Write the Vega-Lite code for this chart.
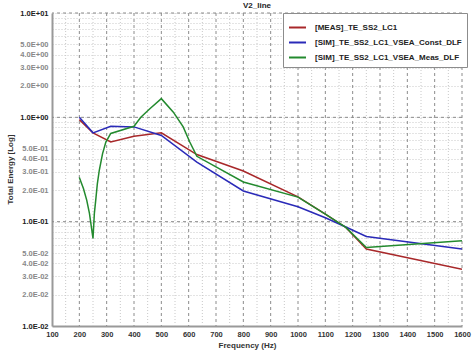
{
  "$schema": "https://vega.github.io/schema/vega-lite/v6.json",
  "autosize": "none",
  "width": 410,
  "height": 313,
  "padding": {"left": 52, "top": 13, "right": 12, "bottom": 25},
  "background": "white",
  "config": {
    "view": {"stroke": null},
    "font": "Liberation Sans",
    "axis": {"labelOverlap": false, "labelSeparation": 0}
  },
  "title": {"text": "V2_line", "fontSize": 8, "fontWeight": "bold", "color": "#222", "anchor": "middle", "offset": -1},
  "datasets": {
    "xminor": [{"f": 150}, {"f": 250}, {"f": 350}, {"f": 450}, {"f": 550}, {"f": 650}, {"f": 750}, {"f": 850}, {"f": 950}, {"f": 1050}, {"f": 1150}, {"f": 1250}, {"f": 1350}, {"f": 1450}, {"f": 1550}],
    "xmajor": [{"f": 200}, {"f": 300}, {"f": 400}, {"f": 500}, {"f": 600}, {"f": 700}, {"f": 800}, {"f": 900}, {"f": 1000}, {"f": 1100}, {"f": 1200}, {"f": 1300}, {"f": 1400}, {"f": 1500}, {"f": 1600}],
    "ymajor": [{"v": 0.1}, {"v": 1}, {"v": 10}],
    "lines": [
      {"f": 200, "v": 0.95, "s": "[MEAS]_TE_SS2_LC1"},
      {"f": 250, "v": 0.71, "s": "[MEAS]_TE_SS2_LC1"},
      {"f": 315, "v": 0.58, "s": "[MEAS]_TE_SS2_LC1"},
      {"f": 400, "v": 0.66, "s": "[MEAS]_TE_SS2_LC1"},
      {"f": 500, "v": 0.71, "s": "[MEAS]_TE_SS2_LC1"},
      {"f": 630, "v": 0.44, "s": "[MEAS]_TE_SS2_LC1"},
      {"f": 800, "v": 0.306, "s": "[MEAS]_TE_SS2_LC1"},
      {"f": 1000, "v": 0.173, "s": "[MEAS]_TE_SS2_LC1"},
      {"f": 1100, "v": 0.118, "s": "[MEAS]_TE_SS2_LC1"},
      {"f": 1175, "v": 0.088, "s": "[MEAS]_TE_SS2_LC1"},
      {"f": 1250, "v": 0.0546, "s": "[MEAS]_TE_SS2_LC1"},
      {"f": 1600, "v": 0.0349, "s": "[MEAS]_TE_SS2_LC1"},
      {"f": 200, "v": 1.0, "s": "[SIM]_TE_SS2_LC1_VSEA_Const_DLF"},
      {"f": 250, "v": 0.71, "s": "[SIM]_TE_SS2_LC1_VSEA_Const_DLF"},
      {"f": 315, "v": 0.82, "s": "[SIM]_TE_SS2_LC1_VSEA_Const_DLF"},
      {"f": 400, "v": 0.81, "s": "[SIM]_TE_SS2_LC1_VSEA_Const_DLF"},
      {"f": 500, "v": 0.67, "s": "[SIM]_TE_SS2_LC1_VSEA_Const_DLF"},
      {"f": 630, "v": 0.373, "s": "[SIM]_TE_SS2_LC1_VSEA_Const_DLF"},
      {"f": 800, "v": 0.197, "s": "[SIM]_TE_SS2_LC1_VSEA_Const_DLF"},
      {"f": 1000, "v": 0.139, "s": "[SIM]_TE_SS2_LC1_VSEA_Const_DLF"},
      {"f": 1100, "v": 0.109, "s": "[SIM]_TE_SS2_LC1_VSEA_Const_DLF"},
      {"f": 1175, "v": 0.089, "s": "[SIM]_TE_SS2_LC1_VSEA_Const_DLF"},
      {"f": 1250, "v": 0.072, "s": "[SIM]_TE_SS2_LC1_VSEA_Const_DLF"},
      {"f": 1600, "v": 0.0546, "s": "[SIM]_TE_SS2_LC1_VSEA_Const_DLF"},
      {"f": 200, "v": 0.265, "s": "[SIM]_TE_SS2_LC1_VSEA_Meas_DLF"},
      {"f": 215, "v": 0.208, "s": "[SIM]_TE_SS2_LC1_VSEA_Meas_DLF"},
      {"f": 227, "v": 0.161, "s": "[SIM]_TE_SS2_LC1_VSEA_Meas_DLF"},
      {"f": 237, "v": 0.12, "s": "[SIM]_TE_SS2_LC1_VSEA_Meas_DLF"},
      {"f": 244, "v": 0.089, "s": "[SIM]_TE_SS2_LC1_VSEA_Meas_DLF"},
      {"f": 250, "v": 0.069, "s": "[SIM]_TE_SS2_LC1_VSEA_Meas_DLF"},
      {"f": 255, "v": 0.12, "s": "[SIM]_TE_SS2_LC1_VSEA_Meas_DLF"},
      {"f": 260, "v": 0.161, "s": "[SIM]_TE_SS2_LC1_VSEA_Meas_DLF"},
      {"f": 266, "v": 0.232, "s": "[SIM]_TE_SS2_LC1_VSEA_Meas_DLF"},
      {"f": 273, "v": 0.311, "s": "[SIM]_TE_SS2_LC1_VSEA_Meas_DLF"},
      {"f": 285, "v": 0.449, "s": "[SIM]_TE_SS2_LC1_VSEA_Meas_DLF"},
      {"f": 297, "v": 0.58, "s": "[SIM]_TE_SS2_LC1_VSEA_Meas_DLF"},
      {"f": 315, "v": 0.70, "s": "[SIM]_TE_SS2_LC1_VSEA_Meas_DLF"},
      {"f": 400, "v": 0.82, "s": "[SIM]_TE_SS2_LC1_VSEA_Meas_DLF"},
      {"f": 425, "v": 1.0, "s": "[SIM]_TE_SS2_LC1_VSEA_Meas_DLF"},
      {"f": 458, "v": 1.21, "s": "[SIM]_TE_SS2_LC1_VSEA_Meas_DLF"},
      {"f": 500, "v": 1.51, "s": "[SIM]_TE_SS2_LC1_VSEA_Meas_DLF"},
      {"f": 544, "v": 1.12, "s": "[SIM]_TE_SS2_LC1_VSEA_Meas_DLF"},
      {"f": 580, "v": 0.81, "s": "[SIM]_TE_SS2_LC1_VSEA_Meas_DLF"},
      {"f": 604, "v": 0.58, "s": "[SIM]_TE_SS2_LC1_VSEA_Meas_DLF"},
      {"f": 630, "v": 0.423, "s": "[SIM]_TE_SS2_LC1_VSEA_Meas_DLF"},
      {"f": 800, "v": 0.24, "s": "[SIM]_TE_SS2_LC1_VSEA_Meas_DLF"},
      {"f": 1000, "v": 0.172, "s": "[SIM]_TE_SS2_LC1_VSEA_Meas_DLF"},
      {"f": 1100, "v": 0.118, "s": "[SIM]_TE_SS2_LC1_VSEA_Meas_DLF"},
      {"f": 1175, "v": 0.088, "s": "[SIM]_TE_SS2_LC1_VSEA_Meas_DLF"},
      {"f": 1250, "v": 0.0566, "s": "[SIM]_TE_SS2_LC1_VSEA_Meas_DLF"},
      {"f": 1600, "v": 0.0656, "s": "[SIM]_TE_SS2_LC1_VSEA_Meas_DLF"}
    ]
  },
  "layer": [
    {
      "data": {"name": "xminor"},
      "mark": {"type": "rule", "color": "#c8c8c8", "strokeDash": [1, 2], "strokeWidth": 1},
      "encoding": {"x": {"field": "f", "type": "quantitative"}}
    },
    {
      "data": {"name": "xmajor"},
      "mark": {"type": "rule", "color": "#8c8c8c", "strokeDash": [3, 3], "strokeWidth": 1},
      "encoding": {"x": {"field": "f", "type": "quantitative"}}
    },
    {
      "data": {"name": "ymajor"},
      "mark": {"type": "rule", "color": "#8c8c8c", "strokeDash": [3, 3], "strokeWidth": 1},
      "encoding": {"y": {"field": "v", "type": "quantitative"}}
    },
    {
      "data": {"name": "lines"},
      "mark": {"type": "line", "strokeWidth": 1.5, "clip": true},
      "encoding": {
        "x": {
          "field": "f", "type": "quantitative",
          "scale": {"domain": [100, 1600], "nice": false, "zero": false},
          "axis": {
            "title": "Frequency (Hz)",
            "titleFontSize": 8, "titleFontWeight": "bold", "titleColor": "#333",
            "titleX": 195, "titleY": 19, "titleBaseline": "middle",
            "values": [100,200,300,400,500,600,700,800,900,1000,1100,1200,1300,1400,1500,1600],
            "tickCount": 100,
            "format": "d",
            "labelFontSize": 7.5, "labelFontWeight": "bold", "labelColor": "#333",
            "labelPadding": 4, "labelFlush": false, "labelOverlap": false, "labelBound": false,
            "ticks": false,
            "domainColor": "#999", "domainWidth": 2,
            "grid": false
          }
        },
        "y": {
          "field": "v", "type": "quantitative",
          "scale": {"type": "log", "domain": [0.01, 10], "nice": false},
          "axis": {
            "title": "Total Energy [Log]",
            "titleFontSize": 8, "titleFontWeight": "bold", "titleColor": "#333",
            "titleX": -42, "titleY": 156, "titleAlign": "center", "titleBaseline": "middle", "titleAngle": -90,
            "values": [0.01,0.02,0.03,0.04,0.05,0.06,0.07,0.08,0.09,0.1,0.2,0.3,0.4,0.5,0.6,0.7,0.8,0.9,1,2,3,4,5,6,7,8,9,10],
            "labelExpr": "round(datum.value/pow(10,floor(log(datum.value)/LN10+1e-6))) > 5 ? '' : format(datum.value/pow(10,floor(log(datum.value)/LN10+1e-6)),'.1f') + 'E' + (floor(log(datum.value)/LN10+1e-6) < 0 ? '-' : '+') + '0' + abs(floor(log(datum.value)/LN10+1e-6))",
            "labelFontSize": 7.5, "labelFontWeight": "bold",
            "labelColor": {"condition": {"test": "abs(log(datum.value)/LN10 - round(log(datum.value)/LN10)) < 1e-6", "value": "#222"}, "value": "#888"},
            "labelPadding": 4, "labelOverlap": false, "labelFlush": false,
            "ticks": false,
            "domainColor": "#999", "domainWidth": 2,
            "grid": true, "gridColor": "#c8c8c8", "gridDash": [1, 2], "gridWidth": 1
          }
        },
        "color": {
          "field": "s", "type": "nominal",
          "scale": {
            "domain": ["[MEAS]_TE_SS2_LC1", "[SIM]_TE_SS2_LC1_VSEA_Const_DLF", "[SIM]_TE_SS2_LC1_VSEA_Meas_DLF"],
            "range": ["#a8282a", "#2a2ab8", "#238a2e"]
          },
          "legend": {
            "title": null,
            "orient": "none", "legendX": 231, "legendY": 0,
            "direction": "vertical",
            "fillColor": "white", "strokeColor": "#8c8c8c",
            "padding": 5, "rowPadding": 1,
            "symbolType": "stroke", "symbolSize": 289, "symbolStrokeWidth": 2,
            "labelFontSize": 8, "labelFontWeight": "bold", "labelColor": "#222",
            "labelOffset": 8, "labelLimit": 300
          }
        }
      }
    }
  ]
}
